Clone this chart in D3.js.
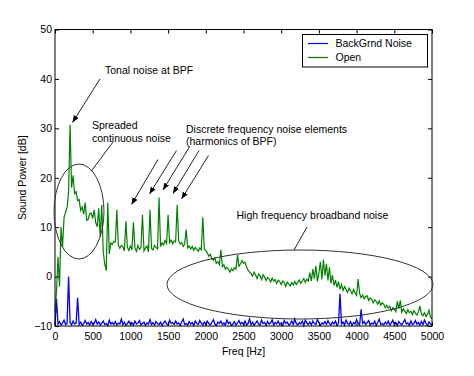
<!DOCTYPE html>
<html>
<head>
<meta charset="utf-8">
<script src="https://cdn.jsdelivr.net/npm/d3@7"></script>
<style>
  html, body { margin: 0; padding: 0; background: #fff; }
  svg { display: block; font-family: "Liberation Sans", Arial, sans-serif; }
</style>
</head>
<body>
<svg id="chart" width="474" height="376"></svg>
<script>
// ---------- data ----------
const freqStep = 20; // Hz between samples, f = index * 20
const xTicks = [0, 500, 1000, 1500, 2000, 2500, 3000, 3500, 4000, 4500, 5000];
const yTicks = [-10, 0, 10, 20, 30, 40, 50];
const seriesNames = ["BackGrnd Noise", "Open"];

const openDb = [
  -7, -3, 4, -2, 10, 6, 12, 13, 14, 17,
  30.7, 18, 20.5, 16.8, 17.2, 15.4, 15.6, 13.4, 14.1, 12.6,
  15, 11.4, 11.6, 12.7, 12.9, 11.8, 13.5, 10.9, 10.1, 13.8,
  8, 14.5, 5, 2.5, 1.2, 15, 4.6, 6.8, 6.5, 7.1,
  7.0, 13.5, 6.4, 5.7, 6.3, 6.0, 5.2, 11.2, 5.9, 5.3,
  6.2, 5.4, 11, 5.8, 5.1, 6.3, 5.5, 5.9, 12.5, 5.2,
  5.8, 6.2, 5.0, 13.5, 5.7, 5.4, 6.3, 5.9, 5.6, 16,
  6.1, 6.8, 6.4, 7.3, 6.7, 12.5, 6.9, 7.4, 6.6, 7.2,
  7.0, 14.5, 7.2, 6.6, 6.9, 6.1, 6.6, 9.5, 5.8, 6.2,
  5.6, 6.1, 5.3, 5.9, 5.5, 5.1, 5.8, 5.4, 12, 5.6,
  5.3, 4.8, 4.1, 4.5, 3.6, 3.3, 3.8, 2.7, 3.0, 2.4,
  5.4, 2.0, 2.4, 1.5, 1.9, 1.4, 0.9, 1.6, 1.2, 1.8,
  1.5, 4.4, 2.1, 2.6, 3.2, 2.7, 2.9, 2.0, 1.3, 0.9,
  0.6, 0.1, 0.9, 0.3, -0.4, 0.5, 0.2, -0.6, 0.4, -0.1,
  -0.8, -0.2, -0.5, -1.1, -0.3, -0.9, -0.6, -1.4, -0.7, -1.0,
  -1.6, -0.9, -1.2, -2.0, -1.1, -1.5, -1.9, -1.2, -1.7, -1.0,
  -1.6, -1.1, -0.7, -1.4, -0.9, -0.4, -1.2, -0.5, -0.9, 0.8,
  -0.9, 1.5, -0.4, 2.2, -1.0, 0.8, 3.0, -0.6, 3.4, 0.2,
  2.6, -0.8, 1.9, -1.4, 0.3, -1.8, -0.7, -2.2, -1.0, -2.6,
  -1.6, -2.8, -2.0, -2.6, -3.2, -2.3, -2.9, -3.5, -2.6, -3.3,
  -3.8, -0.5, -3.4, -4.3, -3.7, -4.5, -4.0, -3.9, -4.8, -4.3,
  -4.6, -5.3, -4.7, -5.0, -5.6, -4.9, -5.8, -5.3, -5.6, -6.3,
  -5.8, -6.4, -6.0, -6.9, -6.3, -6.6, -7.1, -5.0, -6.5, -4.8,
  -7.2, -6.5, -7.0, -7.5, -6.7, -7.3, -7.0, -7.7, -6.9, -7.4,
  -7.8, -7.1, -6.0, -7.6, -7.9, -7.3, -8.1, -7.6, -6.8, -8.2, -8.5
];

const backgroundDb = [
  -10, -4.5, -9.6, -9.1, -9.8, -9.4, -8.8, -9.7, -9.5, 0,
  -9.3, -9.8, -9.0, -9.6, -9.4, -4.3, -9.7, -9.2, -9.9, -9.5,
  -8.9, -9.6, -9.3, -9.8, -9.1, -9.7, -9.5, -8.7, -9.6, -9.2,
  -9.8, -9.4, -9.0, -9.7, -9.5, -9.9, -8.8, -9.6, -9.3, -9.7,
  -9.1, -9.8, -9.4, -9.6, -8.6, -9.7, -9.2, -9.9, -9.5, -9.0,
  -9.7, -9.3, -9.8, -9.0, -9.6, -9.4, -8.9, -9.8, -9.5, -9.2,
  -9.9, -9.4, -9.6, -8.7, -9.7, -9.3, -9.8, -9.1, -9.5, -9.7,
  -9.2, -9.9, -9.4, -9.0, -9.6, -9.8, -8.8, -9.5, -9.3, -9.7,
  -9.0, -9.6, -9.4, -9.9, -9.2, -8.6, -9.7, -9.5, -9.8, -9.1,
  -9.6, -9.3, -9.9, -9.0, -9.5, -9.7, -8.9, -9.4, -9.8, -9.2,
  -9.7, -9.0, -9.5, -9.8, -9.3, -8.7, -9.6, -9.9, -9.2, -9.5,
  -9.0, -9.7, -9.4, -9.8, -8.8, -9.5, -9.2, -9.9, -9.6, -9.1,
  -9.8, -9.4, -8.9, -9.6, -9.3, -9.7, -9.0, -9.8, -9.5, -8.6,
  -9.7, -9.2, -9.9, -9.4, -9.0, -9.6, -9.8, -8.8, -9.5, -9.3,
  -9.9, -9.1, -9.6, -9.4, -8.7, -9.8, -9.3, -9.6, -9.0, -9.7,
  -9.4, -9.9, -8.9, -9.5, -9.2, -9.8, -9.6, -9.0, -9.7, -8.6,
  -9.5, -9.8, -9.3, -9.6, -9.0, -9.9, -8.8, -9.4, -9.7, -9.2,
  -9.8, -9.0, -9.5, -9.7, -8.7, -9.3, -9.9, -9.4, -9.6, -9.1,
  -9.7, -8.9, -9.5, -9.8, -9.2, -9.6, -9.0, -9.9, -9.4, -3.5,
  -9.6, -9.2, -9.8, -8.8, -9.5, -9.7, -9.1, -9.9, -9.3, -9.6,
  -8.7, -9.4, -9.8, -6.6, -9.5, -9.1, -9.7, -9.3, -8.9, -9.8,
  -9.4, -9.6, -9.0, -9.9, -9.3, -8.6, -9.7, -9.5, -9.8, -9.2,
  -9.6, -9.0, -9.8, -9.4, -8.8, -9.7, -9.3, -9.9, -9.1, -9.5,
  -9.8, -9.2, -8.7, -9.6, -9.4, -9.9, -9.0, -9.7, -9.5, -8.9,
  -9.6, -9.3, -9.8, -9.1, -9.7, -8.8, -9.5, -9.9, -9.2, -9.6, -9.8
];

// ---------- layout ----------
const svg = d3.select("#chart");
const W = 474, H = 376;
const plot = { left: 55, right: 432, top: 29.5, bottom: 326 };
const x = d3.scaleLinear().domain([0, 5000]).range([plot.left, plot.right]);
const y = d3.scaleLinear().domain([-10, 50]).range([plot.bottom, plot.top]);
const colors = { bg: "#0000ff", open: "#008000" };
const fontSize = 10.5;

svg.append("rect").attr("width", W).attr("height", H).attr("fill", "#fff");

// ---------- lines ----------
const line = d3.line()
  .x((d, i) => x(i * freqStep))
  .y(d => y(d));

svg.append("path").datum(backgroundDb)
  .attr("d", line).attr("fill", "none")
  .attr("stroke", colors.bg).attr("stroke-width", 1.3);

svg.append("path").datum(openDb)
  .attr("d", line).attr("fill", "none")
  .attr("stroke", colors.open).attr("stroke-width", 1.2);

// ---------- axes ----------
const fmt = d3.format("d");
function styleAxis(g) {
  g.select(".domain").remove();
  g.selectAll(".tick line").attr("stroke", "#000");
  g.selectAll(".tick text").attr("fill", "#000")
    .attr("font-size", fontSize).attr("font-family", "Liberation Sans, Arial, sans-serif");
}

svg.append("g").attr("transform", `translate(0,${plot.bottom})`)
  .call(d3.axisBottom(x).tickValues(xTicks).tickFormat(fmt).tickSizeInner(-4).tickSizeOuter(0).tickPadding(7))
  .call(styleAxis);
svg.append("g").attr("transform", `translate(0,${plot.top})`)
  .call(d3.axisTop(x).tickValues(xTicks).tickSizeInner(-4).tickSizeOuter(0).tickFormat(""))
  .call(styleAxis);
svg.append("g").attr("transform", `translate(${plot.left},0)`)
  .call(d3.axisLeft(y).tickValues(yTicks).tickFormat(fmt).tickSizeInner(-4).tickSizeOuter(0).tickPadding(3))
  .call(styleAxis);
svg.append("g").attr("transform", `translate(${plot.right},0)`)
  .call(d3.axisRight(y).tickValues(yTicks).tickSizeInner(-4).tickSizeOuter(0).tickFormat(""))
  .call(styleAxis);

svg.append("rect")
  .attr("x", plot.left).attr("y", plot.top)
  .attr("width", plot.right - plot.left).attr("height", plot.bottom - plot.top)
  .attr("fill", "none").attr("stroke", "#000").attr("stroke-width", 1);

// axis titles
svg.append("text").attr("x", (plot.left + plot.right) / 2).attr("y", 354.5)
  .attr("text-anchor", "middle").attr("font-size", fontSize).text("Freq [Hz]");
svg.append("text")
  .attr("transform", `translate(25.5,${(plot.top + plot.bottom) / 2}) rotate(-90)`)
  .attr("text-anchor", "middle").attr("font-size", fontSize).text("Sound Power [dB]");

// ---------- legend ----------
const lg = svg.append("g");
lg.append("rect").attr("x", 302.5).attr("y", 34.5).attr("width", 125).attr("height", 32.5)
  .attr("fill", "#fff").attr("stroke", "#000").attr("stroke-width", 1);
[[seriesNames[0], colors.bg, 43.5], [seriesNames[1], colors.open, 57.5]].forEach(([name, c, ly]) => {
  lg.append("line").attr("x1", 308).attr("x2", 328).attr("y1", ly).attr("y2", ly)
    .attr("stroke", c).attr("stroke-width", 1.2);
  lg.append("text").attr("x", 335.5).attr("y", ly + 3.8).attr("font-size", fontSize).text(name);
});

// ---------- annotations ----------
const ann = svg.append("g").attr("font-size", fontSize).attr("fill", "#000");
const defs = svg.append("defs");
defs.append("marker").attr("id", "arrow").attr("viewBox", "0 0 10 10")
  .attr("refX", 10).attr("refY", 5).attr("markerWidth", 7).attr("markerHeight", 7)
  .attr("markerUnits", "userSpaceOnUse").attr("orient", "auto")
  .append("path").attr("d", "M0,1 L10,5 L0,9 Z").attr("fill", "#000");

function text(t, tx, ty) { ann.append("text").attr("x", tx).attr("y", ty).text(t); }
function seg(x1, y1, x2, y2, arrow) {
  const l = ann.append("line").attr("x1", x1).attr("y1", y1).attr("x2", x2).attr("y2", y2)
    .attr("stroke", "#222").attr("stroke-width", 1);
  if (arrow) l.attr("marker-end", "url(#arrow)");
}

text("Tonal noise at BPF", 105, 73.5);
seg(100, 79, 72.5, 122.5, true);

text("Spreaded", 92, 128.5);
text("continuous noise", 92, 141.5);
seg(113, 142, 91, 171.5, false);
ann.append("ellipse").attr("cx", 79).attr("cy", 211.5).attr("rx", 25).attr("ry", 47.5)
  .attr("fill", "none").attr("stroke", "#333").attr("stroke-width", 1);

text("Discrete frequency noise elements", 186, 132.5);
text("(harmonics of BPF)", 186, 145);
seg(158, 159.5, 131.5, 204.5, true);
seg(176.5, 150.5, 149.5, 194, true);
seg(190, 146, 163, 190, true);
seg(199, 150.5, 173, 193.5, true);
seg(208.5, 155.5, 181.5, 199, true);

text("High frequency broadband noise", 236.5, 218.5);
seg(307, 227, 294, 250, false);
ann.append("ellipse").attr("cx", 300).attr("cy", 284.5).attr("rx", 133).attr("ry", 34.5)
  .attr("fill", "none").attr("stroke", "#333").attr("stroke-width", 1);
</script>
</body>
</html>
